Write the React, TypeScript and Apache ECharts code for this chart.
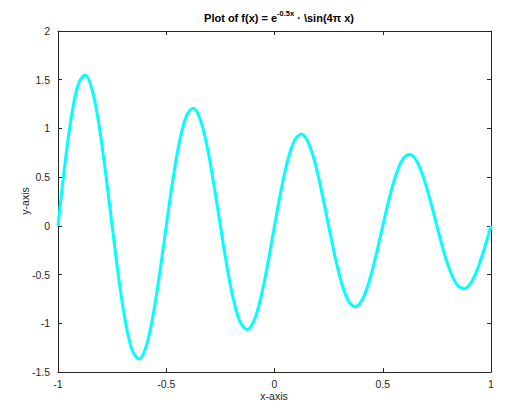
import React, { useEffect, useRef } from 'react';
import * as echarts from 'echarts';

// sample points of the curve, x from -1 to 1 in steps of 1/32
const xStart = -1;
const xStep = 1 / 32;
const yValues = [
  0, 0.6212, 1.13, 1.4535, 1.5488, 1.4088, 1.0615, 0.5656,
  0, -0.5482, -0.9971, -1.2827, -1.3668, -1.2432, -0.9368, -0.4991,
  0, 0.4838, 0.88, 1.132, 1.2062, 1.0971, 0.8267, 0.4405,
  0, -0.4269, -0.7766, -0.999, -1.0645, -0.9682, -0.7295, -0.3887,
  0, 0.3768, 0.6853, 0.8816, 0.9394, 0.8544, 0.6438, 0.3431,
  0, -0.3325, -0.6048, -0.7779, -0.829, -0.754, -0.5682, -0.3027,
  0, 0.2934, 0.5337, 0.6866, 0.7316, 0.6655, 0.5014, 0.2672,
  0, -0.2589, -0.471, -0.6059, -0.6456, -0.5872, -0.4425, -0.2358,
  0,
];

const xTicks = [-1, -0.5, 0, 0.5, 1];
const yTicks = [-1.5, -1, -0.5, 0, 0.5, 1, 1.5, 2];

const FONT = '"Liberation Sans", Arial, sans-serif';
const TEXT = '#262626';

const App: React.FC = () => {
  const chartRef = useRef<HTMLDivElement>(null);

  useEffect(() => {
    if (!chartRef.current) return;
    const chart = echarts.init(chartRef.current, undefined, { renderer: 'svg' });

    const points = yValues.map((y, i) => [xStart + i * xStep, y]);

    const axisBase = {
      type: 'value' as const,
      interval: 0.5,
      axisLine: { show: true, onZero: false, lineStyle: { color: '#262626', width: 1 } },
      axisTick: { show: true, inside: true, length: 4, lineStyle: { color: '#262626' } },
      splitLine: { show: false },
    };
    const labelStyle = { color: TEXT, fontFamily: FONT, fontSize: 10.5 };

    chart.setOption({
      animation: false,
      backgroundColor: '#ffffff',
      title: {
        text: '{a|Plot of f(x) = e}{s|-0.5x}{a| · \\sin(4π x)}',
        left: 274,
        textAlign: 'center',
        top: 4,
        textStyle: {
          rich: {
            a: { fontFamily: FONT, fontSize: 11, fontWeight: 'bold', color: '#000' },
            s: { fontFamily: FONT, fontSize: 7.5, fontWeight: 'bold', color: '#000', padding: [0, 0, 9, 0] },
          },
        },
      },
      graphic: [
        {
          type: 'text',
          x: 274,
          y: 396,
          style: {
            text: 'x-axis',
            fill: TEXT,
            font: `10.5px ${FONT}`,
            textAlign: 'center',
            textVerticalAlign: 'middle',
          },
        },
        {
          type: 'text',
          x: 25,
          y: 201,
          rotation: Math.PI / 2,
          style: {
            text: 'y-axis',
            fill: TEXT,
            font: `10.5px ${FONT}`,
            textAlign: 'center',
            textVerticalAlign: 'middle',
          },
        },
      ],
      grid: { left: 58, right: 35, top: 31, bottom: 30, containLabel: false, outerBoundsMode: 'none' },
      xAxis: [
        {
          ...axisBase,
          min: xTicks[0],
          max: xTicks[xTicks.length - 1],
          position: 'bottom',
          axisLabel: { ...labelStyle, margin: 6 },
        },
        {
          ...axisBase,
          min: xTicks[0],
          max: xTicks[xTicks.length - 1],
          position: 'top',
          axisLabel: { show: false },
        },
      ],
      yAxis: [
        {
          ...axisBase,
          min: yTicks[0],
          max: yTicks[yTicks.length - 1],
          position: 'left',
          axisLabel: { ...labelStyle, margin: 8 },
        },
        {
          ...axisBase,
          min: yTicks[0],
          max: yTicks[yTicks.length - 1],
          position: 'right',
          axisLabel: { show: false },
        },
      ],
      series: [
        {
          type: 'line',
          data: points,
          xAxisIndex: 0,
          yAxisIndex: 0,
          smooth: 0.35,
          showSymbol: false,
          lineStyle: { color: '#00ffff', width: 3 },
          z: 1,
        },
      ],
    });

    return () => {
      chart.dispose();
    };
  }, []);

  return (
    <div
      ref={chartRef}
      style={{ position: 'absolute', left: 0, top: 0, width: 526, height: 402 }}
    />
  );
};

export default App;
